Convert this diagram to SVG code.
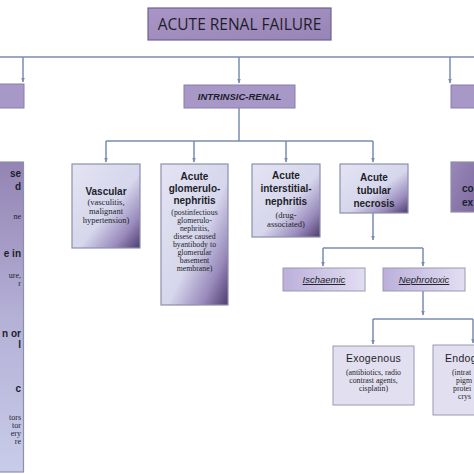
<svg xmlns="http://www.w3.org/2000/svg" width="474" height="474" viewBox="0 0 474 474">
<defs>
<style>
.ln{stroke:#7b8db0;stroke-width:1.5;fill:none}
.ar{stroke:#7b8db0;stroke-width:1.5;fill:none;marker-end:url(#ah)}
.hd{font-family:"Liberation Sans",Arial,sans-serif;font-weight:bold;font-size:10px;fill:#1e1e2a;text-anchor:middle}
.sm{font-family:"Liberation Serif","Times New Roman",serif;font-size:8.5px;fill:#1e1e2a;text-anchor:middle}
.gs{font-family:"Liberation Serif","Times New Roman",serif;font-size:7.8px;fill:#1e1e2a;text-anchor:middle}
.es{font-family:"Liberation Serif","Times New Roman",serif;font-size:7.8px;fill:#1e1e2a}
.nb{stroke:#8c90aa;stroke-width:1.2;fill:url(#gNode)}
</style>
<marker id="ah" viewBox="0 0 10 10" refX="9" refY="5" markerWidth="5" markerHeight="5" orient="auto" markerUnits="userSpaceOnUse">
<path d="M0,1 L10,5 L0,9 z" fill="#7b8db0"/>
</marker>
<linearGradient id="gNode" x1="0" y1="0" x2="1" y2="1">
<stop offset="0" stop-color="#e4e4f4"/>
<stop offset="0.55" stop-color="#d6d6ec"/>
<stop offset="0.8" stop-color="#9a8cbc"/>
<stop offset="1" stop-color="#4e3c70"/>
</linearGradient>
<linearGradient id="gTitle" x1="0" y1="0" x2="1" y2="1">
<stop offset="0" stop-color="#a996c6"/>
<stop offset="1" stop-color="#9884b6"/>
</linearGradient>
<linearGradient id="gLeft" x1="0" y1="0" x2="0" y2="1">
<stop offset="0" stop-color="#9484b4"/>
<stop offset="0.5" stop-color="#b4b0d6"/>
<stop offset="1" stop-color="#c8ccea"/>
</linearGradient>
<linearGradient id="gRight" x1="0" y1="0" x2="1" y2="1">
<stop offset="0" stop-color="#9a88b8"/>
<stop offset="1" stop-color="#7e6aa0"/>
</linearGradient>
<linearGradient id="gSub" x1="0" y1="0" x2="1" y2="0">
<stop offset="0" stop-color="#bcb0da"/>
<stop offset="1" stop-color="#e2def2"/>
</linearGradient>
</defs>

<g id="connectors">
<path class="ln" d="M0 57 H474"/>
<path class="ar" d="M23 57 V82"/>
<path class="ar" d="M239 57 V83"/>
<path class="ar" d="M450 57 V83"/>
<path class="ln" d="M239 108 V141 M106 141 H373"/>
<path class="ar" d="M106 141 V162"/>
<path class="ar" d="M194 141 V162"/>
<path class="ar" d="M286 141 V162"/>
<path class="ar" d="M373 141 V162"/>
<path class="ar" d="M373 213 V240"/>
<path class="ln" d="M323 248 H423"/>
<path class="ar" d="M323 248 V266"/>
<path class="ar" d="M423 248 V266"/>
<path class="ar" d="M423 291 V315"/>
<path class="ln" d="M373 319 H473"/>
<path class="ar" d="M373 319 V344"/>
<path class="ar" d="M473 319 V343"/>
</g>

<g id="title">
<rect x="148" y="8" width="183" height="32" fill="url(#gTitle)" stroke="#6e6290" stroke-width="1.2"/>
<text x="239.5" y="30" font-family="'Open Sans','Liberation Sans',sans-serif" font-size="15.5" fill="#1e1e2a" text-anchor="middle">ACUTE RENAL FAILURE</text>
</g>

<g id="prerenal">
<rect x="-2" y="84" width="26" height="24" fill="#a898c8" stroke="#8a7ea8" stroke-width="1"/>
</g>

<g id="intrinsic">
<rect x="184" y="85" width="111" height="23" fill="#a898c8" stroke="#8a7ea8" stroke-width="1"/>
<text x="239.5" y="100" font-family="'Liberation Sans',Arial,sans-serif" font-weight="bold" font-style="italic" font-size="9.5" fill="#1e1e2a" text-anchor="middle">INTRINSIC-RENAL</text>
</g>

<g id="postrenal">
<rect x="451" y="85" width="26" height="23" fill="#a898c8" stroke="#8a7ea8" stroke-width="1"/>
</g>

<g id="prerenal-causes">
<rect x="-2" y="162" width="25.5" height="310" fill="url(#gLeft)" stroke="#8c90aa" stroke-width="1.2"/>
<g font-family="'Liberation Sans',Arial,sans-serif" font-weight="bold" font-size="10" fill="#1e1e2a" text-anchor="end">
<text x="21" y="177">se</text>
<text x="21" y="190">d</text>
<text x="21" y="257">e in</text>
<text x="21" y="337">n or</text>
<text x="21" y="348">l</text>
<text x="21" y="392">c</text>
</g>
<g font-family="'Liberation Serif','Times New Roman',serif" font-size="8" fill="#1e1e2a" text-anchor="end">
<text x="21" y="219">ne</text>
<text x="21" y="278">ure,</text>
<text x="21" y="286">r</text>
<text x="21" y="420">tors</text>
<text x="21" y="428">tor</text>
<text x="21" y="436">ery</text>
<text x="21" y="444">re</text>
</g>
</g>

<g id="postrenal-causes">
<rect x="451" y="162" width="26" height="50" fill="url(#gRight)" stroke="#8c90aa" stroke-width="1.2"/>
<text x="462" y="192" font-family="'Liberation Sans',Arial,sans-serif" font-weight="bold" font-size="10" fill="#1e1e2a">col</text>
<text x="462" y="206" font-family="'Liberation Sans',Arial,sans-serif" font-weight="bold" font-size="10" fill="#1e1e2a">ex</text>
</g>

<g id="vascular">
<rect class="nb" x="72" y="164" width="68" height="84"/>
<text class="hd" x="106" y="195">Vascular</text>
<text class="sm" x="106" y="205">(vasculitis,</text>
<text class="sm" x="106" y="214">malignant</text>
<text class="sm" x="106" y="223">hypertension)</text>
</g>

<g id="glomerulonephritis">
<rect class="nb" x="161" y="164" width="67" height="141"/>
<text class="hd" x="194.5" y="180">Acute</text>
<text class="hd" x="194.5" y="192">glomerulo-</text>
<text class="hd" x="194.5" y="204">nephritis</text>
<text class="gs" x="194.5" y="215">(postinfectious</text>
<text class="gs" x="194.5" y="223">glomerulo-</text>
<text class="gs" x="194.5" y="231">nephritis,</text>
<text class="gs" x="194.5" y="239">disese caused</text>
<text class="gs" x="194.5" y="247">byantibody to</text>
<text class="gs" x="194.5" y="255">glomerular</text>
<text class="gs" x="194.5" y="263">basement</text>
<text class="gs" x="194.5" y="271">membrane)</text>
</g>

<g id="interstitial">
<rect class="nb" x="252" y="164" width="68" height="73"/>
<text class="hd" x="286" y="179">Acute</text>
<text class="hd" x="286" y="192">interstitial-</text>
<text class="hd" x="286" y="205">nephritis</text>
<text class="sm" x="286" y="218">(drug-</text>
<text class="sm" x="286" y="227">associated)</text>
</g>

<g id="atn">
<rect class="nb" x="340" y="164" width="68" height="49"/>
<text class="hd" x="374" y="181">Acute</text>
<text class="hd" x="374" y="194">tubular</text>
<text class="hd" x="374" y="207">necrosis</text>
</g>

<g id="ischaemic">
<rect x="283" y="268" width="82" height="23" fill="url(#gSub)" stroke="#9a98b4" stroke-width="1"/>
<text x="324" y="283" font-family="'Liberation Sans',Arial,sans-serif" font-style="italic" font-size="9.5" fill="#1e1e2a" text-anchor="middle" text-decoration="underline">Ischaemic</text>
</g>

<g id="nephrotoxic">
<rect x="383" y="268" width="82" height="23" fill="url(#gSub)" stroke="#9a98b4" stroke-width="1"/>
<text x="424" y="283" font-family="'Liberation Sans',Arial,sans-serif" font-style="italic" font-size="9.5" fill="#1e1e2a" text-anchor="middle" text-decoration="underline">Nephrotoxic</text>
</g>

<g id="exogenous">
<rect x="333" y="346" width="81" height="59" fill="#e2e0f0" stroke="#9a98b0" stroke-width="1"/>
<text x="373.5" y="362" font-family="'Liberation Sans',Arial,sans-serif" font-size="10.5" fill="#1e1e2a" text-anchor="middle" letter-spacing="0.3">Exogenous</text>
<text class="gs" x="373.5" y="375">(antibiotics, radio</text>
<text class="gs" x="373.5" y="383">contrast agents,</text>
<text class="gs" x="373.5" y="391">cisplatin)</text>
</g>

<g id="endogenous">
<rect x="433" y="345" width="44" height="70" fill="#e2e0f0" stroke="#9a98b0" stroke-width="1"/>
<text x="445" y="362" font-family="'Liberation Sans',Arial,sans-serif" font-size="10.5" fill="#1e1e2a" letter-spacing="0.3">Endog</text>
<text class="es" x="452" y="375">(intrat</text>
<text class="es" x="456" y="383">pigm</text>
<text class="es" x="453" y="391">protei</text>
<text class="es" x="458" y="399">crys</text>
</g>
</svg>
